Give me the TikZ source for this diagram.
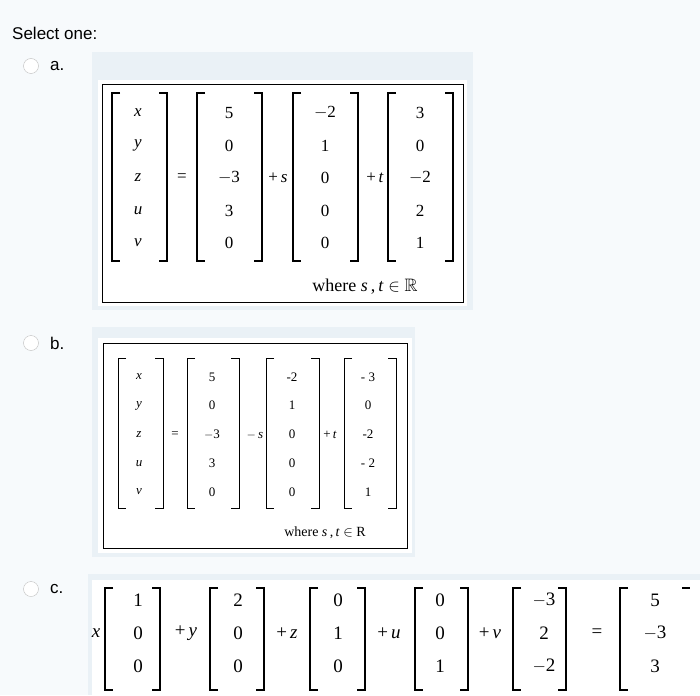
\documentclass[tikz,border=0pt]{standalone}
\usepackage{fontspec}
\setmainfont{Liberation Serif}
\newfontfamily\uisans{Liberation Sans}
\usepackage{amssymb}
\definecolor{pagebg}{HTML}{F7FAFC}
\definecolor{imgbg}{HTML}{EAF1F6}
\newcommand\mybrk[5][1.1pt]{%
 \draw[line width=#1] (#2+8,#4)--(#2,#4)--(#2,#5)--(#2+8,#5);
 \draw[line width=#1] (#3-8,#4)--(#3,#4)--(#3,#5)--(#3-8,#5);}
\begin{document}
\begin{tikzpicture}[x=1pt,y=-1pt,
 ent/.style={inner sep=0pt,font=\fontsize{17}{17}\selectfont},
 entb/.style={inner sep=0pt,font=\fontsize{13}{13}\selectfont},
 entc/.style={inner sep=0pt,font=\fontsize{19}{19}\selectfont},
 lbl/.style={inner sep=0pt,anchor=west,font=\uisans\fontsize{17}{17}\selectfont},
 radio/.style={circle,draw=gray!50,fill=white,minimum size=15pt,inner sep=0pt}]
\useasboundingbox (0,0) rectangle (700,695);
\fill[pagebg] (0,0) rectangle (700,695);
\node[lbl] (sel) at (12,33) {Select one:};
\node[radio] (ra) at (31,66) {}; \node[lbl] (la) at (50,66) {a.};
\node[radio] (rb) at (31,343) {}; \node[lbl] (lb) at (50,343) {b.};
\node[radio] (rc) at (31,589) {}; \node[lbl] (lc) at (50,589) {c.};
% ---- a
\fill[imgbg] (92,52) rectangle (473,310);
\fill[white] (98,80) rectangle (467,306);
\draw[line width=0.9pt] (102,84) rectangle (463,302);
\mybrk{112}{167}{93}{261}\mybrk{197}{262}{93}{261}\mybrk{293}{358}{93}{261}\mybrk{388}{453}{93}{261}
\foreach \i/\a/\b/\c/\d in {1/x/5/$-$2/3,2/y/0/1/0,3/z/$-$3/0/$-$2,4/u/3/0/2,5/v/0/0/1}{
 \pgfmathsetmacro\yy{113+(\i-1)*32.5}
 \node[ent] (a1\i) at (138,\yy) {\textit{\a}};
 \node[ent] (a2\i) at (229,\yy) {\b};
 \node[ent] (a3\i) at (325,\yy) {\c};
 \node[ent] (a4\i) at (420,\yy) {\d};}
\node[ent] (aeq) at (182,178) {=};
\node[ent] (as) at (278,178) {+\,\textit{s}};
\node[ent] (at) at (375,178) {+\,\textit{t}};
\node[ent,font=\fontsize{18}{18}\selectfont] (aw) at (365,287) {where \textit{s}\,,\,\textit{t} $\in\mathbb{R}$};
% ---- b
\fill[imgbg] (92,327) rectangle (415,557);
\fill[white] (98,338) rectangle (412,553);
\draw[line width=0.9pt] (103,343) rectangle (407,548);
\mybrk[1pt]{118}{163}{358}{508}\mybrk[1pt]{187}{239}{358}{508}\mybrk[1pt]{266}{319}{358}{508}\mybrk[1pt]{344}{396}{358}{508}
\foreach \i/\a/\b/\c/\d in {1/x/5/-2/- 3,2/y/0/1/0,3/z/$-$3/0/-2,4/u/3/0/- 2,5/v/0/0/1}{
 \pgfmathsetmacro\yy{377+(\i-1)*28.7}
 \node[entb] (b1\i) at (139,\yy) {\textit{\a}};
 \node[entb] (b2\i) at (212,\yy) {\b};
 \node[entb] (b3\i) at (292,\yy) {\c};
 \node[entb] (b4\i) at (368,\yy) {\d};}
\node[entb] (beq) at (175,435) {=};
\node[entb] (bs) at (255,435) {$-$\,\textit{s}};
\node[entb] (bt) at (330,435) {+\,\textit{t}};
\node[entb,font=\fontsize{14}{14}\selectfont] (bw) at (325,533) {where \textit{s}\,,\,\textit{t} $\in$ R};
% ---- c
\fill[imgbg] (88,574) rectangle (700,695);
\fill[white] (92,580) rectangle (700,695);
\mybrk[1.2pt]{105}{160}{588}{690}\mybrk[1.2pt]{210}{264}{588}{690}\mybrk[1.2pt]{310}{365}{588}{690}
\mybrk[1.2pt]{415}{468}{588}{690}\mybrk[1.2pt]{513}{566}{588}{690}
\draw[line width=1.2pt] (628,588)--(620,588)--(620,690)--(628,690);
\draw[line width=1.2pt] (682,588)--(690,588);
\foreach \i/\a/\b/\c/\d/\e/\f in {1/1/2/0/0/$-$3/5,2/0/0/1/0/2/$-$3,3/0/0/0/1/$-$2/3}{
 \pgfmathsetmacro\yy{600+(\i-1)*33}
 \node[entc] (c1\i) at (138,\yy) {\a};
 \node[entc] (c2\i) at (238,\yy) {\b};
 \node[entc] (c3\i) at (338,\yy) {\c};
 \node[entc] (c4\i) at (440,\yy) {\d};
 \node[entc] (c5\i) at (544,\yy) {\e};
 \node[entc] (c6\i) at (655,\yy) {\f};}
\node[entc] (cx) at (96,633) {\textit{x}};
\node[entc] (cy) at (186,633) {+\,\textit{y}};
\node[entc] (cz) at (287,633) {+\,\textit{z}};
\node[entc] (cu) at (389,633) {+\,\textit{u}};
\node[entc] (cv) at (490,633) {+\,\textit{v}};
\node[entc] (ceq) at (597,633) {=};
\end{tikzpicture}
\end{document}
